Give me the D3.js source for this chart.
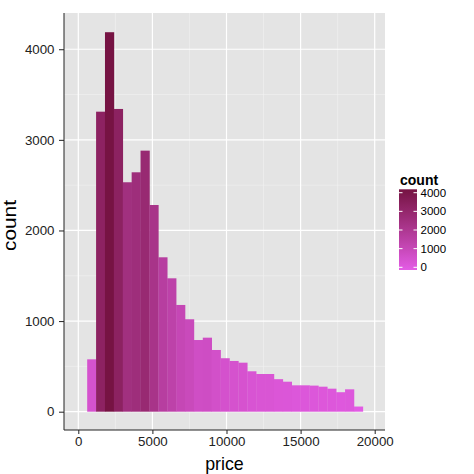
<!DOCTYPE html>
<html><head><meta charset="utf-8">
<script src="https://cdn.jsdelivr.net/npm/d3@7"></script>
<style>body{margin:0;background:#fff}svg{display:block}text{font-family:"Liberation Sans",Arial,sans-serif}</style>
</head><body>
<script>
// Data: histogram of price, binwidth 600 starting at 600
const binStarts = [600,1200,1800,2400,3000,3600,4200,4800,5400,6000,6600,7200,7800,8400,9000,9600,10200,10800,11400,12000,12600,13200,13800,14400,15000,15600,16200,16800,17400,18000,18600];
const counts = [578,3311,4188,3341,2532,2642,2881,2281,1704,1472,1178,1020,791,817,681,590,560,541,446,416,416,359,331,291,291,288,276,254,215,247,57];
const binWidth = 600;
const xTicks = [0,5000,10000,15000,20000];
const yTicks = [0,1000,2000,3000,4000];
const xMinorTicks = [2500,7500,12500,17500];
const yMinorTicks = [500,1500,2500,3500];
const legendTicks = [0,1000,2000,3000,4000];
const fillLow = "#E45CE6", fillHigh = "#761343";

const W = 474, H = 474;
const P = {l:64, r:385, t:13, b:430};
const svg = d3.select("body").append("svg").attr("width",W).attr("height",H);

const x = d3.scaleLinear().domain([-965,20695]).range([P.l,P.r]);
const y = d3.scaleLinear().domain([-202,4400]).range([P.b,P.t]);
const maxC = d3.max(counts);
const color = d3.scaleLinear().domain([0,maxC]).range([fillLow,fillHigh]).interpolate(d3.interpolateLab);

// panel
svg.append("rect").attr("x",P.l).attr("y",P.t).attr("width",P.r-P.l).attr("height",P.b-P.t).attr("fill","#E4E4E4");
const g = svg.append("g");
g.selectAll(".xm").data(xMinorTicks).enter().append("line")
 .attr("x1",d=>x(d)).attr("x2",d=>x(d)).attr("y1",P.t).attr("y2",P.b).attr("stroke","#F2F2F2").attr("stroke-width",0.6);
g.selectAll(".ym").data(yMinorTicks).enter().append("line")
 .attr("y1",d=>y(d)).attr("y2",d=>y(d)).attr("x1",P.l).attr("x2",P.r).attr("stroke","#F2F2F2").attr("stroke-width",0.6);
g.selectAll(".xM").data(xTicks).enter().append("line")
 .attr("x1",d=>x(d)).attr("x2",d=>x(d)).attr("y1",P.t).attr("y2",P.b).attr("stroke","#fff").attr("stroke-width",1.2);
g.selectAll(".yM").data(yTicks).enter().append("line")
 .attr("y1",d=>y(d)).attr("y2",d=>y(d)).attr("x1",P.l).attr("x2",P.r).attr("stroke","#fff").attr("stroke-width",1.2);

// bars
svg.append("g").selectAll("rect").data(counts).enter().append("rect")
 .attr("x",(d,i)=>x(binStarts[i]))
 .attr("width",(d,i)=>x(binStarts[i]+binWidth)-x(binStarts[i])+0.3)
 .attr("y",d=>y(d)).attr("height",d=>y(0)-y(d))
 .attr("fill",d=>color(d));

// axes
const xAxis = d3.axisBottom(x).tickValues(xTicks).tickSize(4).tickPadding(3).tickFormat(d3.format("d"));
const yAxis = d3.axisLeft(y).tickValues(yTicks).tickSize(5).tickPadding(4.5).tickFormat(d3.format("d"));
const xa = svg.append("g").attr("transform",`translate(0,${P.b})`).call(xAxis);
const ya = svg.append("g").attr("transform",`translate(${P.l},0)`).call(yAxis);
[xa,ya].forEach(a=>{
  a.select(".domain").remove();
  a.selectAll("line").attr("stroke","#222");
  a.selectAll("text").attr("font-size",13.3).attr("fill","#222").attr("font-family","Liberation Sans, Arial, sans-serif");
});
svg.append("line").attr("x1",P.l).attr("x2",P.l).attr("y1",P.t).attr("y2",P.b).attr("stroke","#222").attr("stroke-width",1);
svg.append("line").attr("x1",P.l).attr("x2",P.r).attr("y1",P.b).attr("y2",P.b).attr("stroke","#222").attr("stroke-width",1);

// titles
svg.append("text").attr("x",(P.l+P.r)/2).attr("y",469.5).attr("text-anchor","middle").attr("font-size",17.8).attr("fill","#000").text("price");
svg.append("text").attr("transform",`translate(15.5,225.5) rotate(-90)`).attr("text-anchor","middle").attr("font-size",17.5)
 .attr("textLength",51).attr("lengthAdjust","spacingAndGlyphs").attr("fill","#000").text("count");

// legend
const L = {x:399, w:18, top:189.3, bot:270};
const ly = d3.scaleLinear().domain([0,maxC]).range([267.3,189.2]);
const defs = svg.append("defs");
const grad = defs.append("linearGradient").attr("id","lg").attr("x1",0).attr("x2",0).attr("y1",1).attr("y2",0);
d3.range(0,1.0001,0.05).forEach(t=>grad.append("stop").attr("offset",t).attr("stop-color",color(t*maxC)));
svg.append("rect").attr("x",L.x).attr("y",L.top).attr("width",L.w).attr("height",L.bot-L.top).attr("fill","url(#lg)");
legendTicks.forEach(v=>{
  svg.append("line").attr("x1",L.x).attr("x2",L.x+3.5).attr("y1",ly(v)).attr("y2",ly(v)).attr("stroke","#fff").attr("stroke-width",1);
  svg.append("line").attr("x1",L.x+L.w-3.5).attr("x2",L.x+L.w).attr("y1",ly(v)).attr("y2",ly(v)).attr("stroke","#fff").attr("stroke-width",1);
  svg.append("text").attr("x",L.x+L.w+3.5).attr("y",ly(v)).attr("dy","0.36em").attr("font-size",11.5).attr("fill","#000").text(v);
});
svg.append("text").attr("x",L.x+1).attr("y",185).attr("font-size",14).attr("font-weight","bold").attr("fill","#000").text("count");
</script>
</body></html>
